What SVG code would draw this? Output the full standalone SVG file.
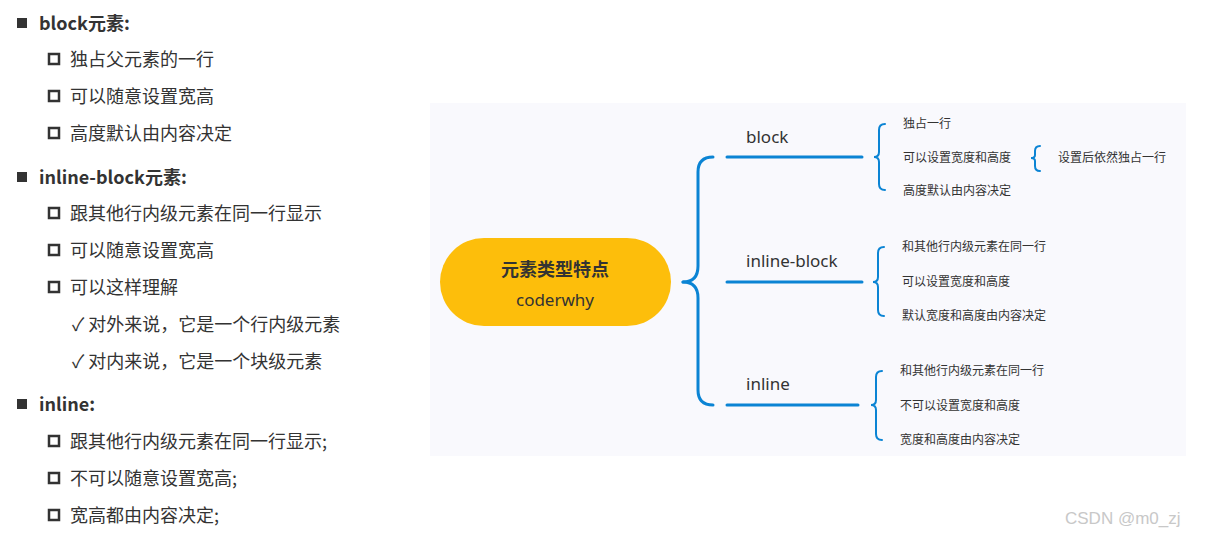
<svg xmlns="http://www.w3.org/2000/svg" width="1217" height="538" viewBox="0 0 1217 538">
<style>
.t{font-family:"Noto Sans CJK SC","Noto Sans",sans-serif;fill:#333;font-size:18px}
.h{font-weight:bold}
.m{font-family:"Noto Sans","Noto Sans CJK SC",sans-serif;fill:#333;font-size:17px}
.s{font-family:"Noto Sans CJK SC",sans-serif;fill:#333;font-size:12px}
.br{fill:none;stroke:#0b84d4;stroke-width:3;stroke-linecap:round}
.bs{fill:none;stroke:#0b84d4;stroke-width:2;stroke-linecap:round}
.fb{fill:#333}
.hb{fill:none;stroke:#333;stroke-width:2.5}
</style>
<rect width="1217" height="538" fill="#fff"/>
<g id="list">
<rect class="fb" x="17" y="18" width="10" height="10"/><text class="t h" x="39" y="30">block元素:</text>
<rect class="hb" x="49" y="54" width="10" height="10"/><text class="t" x="70" y="66">独占父元素的一行</text>
<rect class="hb" x="49" y="91" width="10" height="10"/><text class="t" x="70" y="103">可以随意设置宽高</text>
<rect class="hb" x="49" y="128" width="10" height="10"/><text class="t" x="70" y="140">高度默认由内容决定</text>
<rect class="fb" x="17" y="172" width="10" height="10"/><text class="t h" x="39" y="184">inline-block元素:</text>
<rect class="hb" x="49" y="208" width="10" height="10"/><text class="t" x="70" y="220">跟其他行内级元素在同一行显示</text>
<rect class="hb" x="49" y="245" width="10" height="10"/><text class="t" x="70" y="257">可以随意设置宽高</text>
<rect class="hb" x="49" y="282" width="10" height="10"/><text class="t" x="70" y="294">可以这样理解</text>
<text class="t" x="72" y="331">✓  对外来说，它是一个行内级元素</text>
<text class="t" x="72" y="368">✓  对内来说，它是一个块级元素</text>
<rect class="fb" x="17" y="399" width="10" height="10"/><text class="t h" x="39" y="411">inline:</text>
<rect class="hb" x="49" y="436" width="10" height="10"/><text class="t" x="70" y="448">跟其他行内级元素在同一行显示;</text>
<rect class="hb" x="49" y="473" width="10" height="10"/><text class="t" x="70" y="485">不可以随意设置宽高;</text>
<rect class="hb" x="49" y="510" width="10" height="10"/><text class="t" x="70" y="522">宽高都由内容决定;</text>
</g>
<rect x="430" y="103" width="756" height="353" fill="#f9f9fd"/>
<g id="center">
<rect x="440" y="238" width="231" height="88" rx="44" fill="#fdbe0b"/>
<text class="t h" x="555" y="276" text-anchor="middle" font-size="23" fill="#222">元素类型特点</text>
<text class="m" x="555" y="306" text-anchor="middle" font-size="22" fill="#222">coderwhy</text>
</g>
<g id="connectors">
<path class="br" d="M683,282 Q698,282 698,266 L698,172 Q698,157 713,157"/>
<path class="br" d="M683,282 Q698,282 698,298 L698,390 Q698,405 713,405"/>
<path class="br" d="M727,157 H862 M727,282 H862 M727,405 H858"/>
<path class="bs" d="M885,124 Q879,124 879,130 L879,152 Q879,157 874,157 Q879,157 879,162 L879,184 Q879,190 885,190"/>
<path class="bs" d="M1040,146 Q1035,146 1035,151 L1035,155 Q1035,158 1031,158 Q1035,158 1035,161 L1035,166 Q1035,171 1040,171"/>
<path class="bs" d="M884,247 Q878,247 878,253 L878,277 Q878,282 873,282 Q878,282 878,287 L878,310 Q878,316 884,316"/>
<path class="bs" d="M882,371 Q876,371 876,377 L876,400 Q876,405 871,405 Q876,405 876,410 L876,434 Q876,440 882,440"/>
</g>
<g id="block"><text class="m" x="746" y="143">block</text>
<text class="s" x="903" y="128">独占一行</text><text class="s" x="903" y="162">可以设置宽度和高度</text><text class="s" x="903" y="195">高度默认由内容决定</text>
<text class="s" x="1058" y="162">设置后依然独占一行</text></g>
<g id="inline-block"><text class="m" x="746" y="267">inline-block</text>
<text class="s" x="902" y="251">和其他行内级元素在同一行</text><text class="s" x="902" y="286">可以设置宽度和高度</text><text class="s" x="902" y="320">默认宽度和高度由内容决定</text></g>
<g id="inline"><text class="m" x="746" y="390">inline</text>
<text class="s" x="900" y="375">和其他行内级元素在同一行</text><text class="s" x="900" y="410">不可以设置宽度和高度</text><text class="s" x="900" y="444">宽度和高度由内容决定</text></g>
<text x="1065" y="524" font-family="Liberation Sans,sans-serif" font-size="17" fill="#c8c8c8">CSDN @m0_zj</text>
</svg>
